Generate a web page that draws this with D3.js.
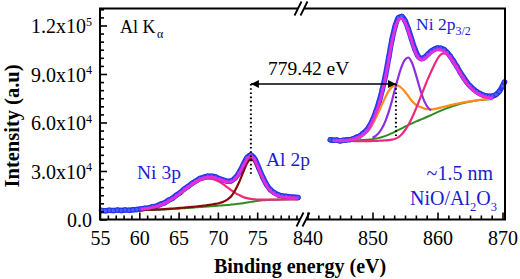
<!DOCTYPE html>
<html><head><meta charset="utf-8">
<script src="https://cdn.jsdelivr.net/npm/d3@7"></script>
<style>
body{margin:0;background:#fff}
svg{display:block;background:#fff}
text{font-family:"Liberation Serif","Times New Roman",Times,serif}
</style>
</head><body>
<svg id="c" width="520" height="279"></svg>
<script>
// ---------- DATA (intensity in units of 1000 counts) ----------
const leftDataE = [55.2,55.7,56.2,56.7,57.2,57.7,58.2,58.7,59.2,59.7,60.2,60.7,61.2,61.7,62.2,62.7,63.2,63.7,64.2,64.7,65.2,65.7,66.2,66.7,67.2,67.7,68.2,68.7,69.2,69.7,70.2,70.7,71.2,71.7,72.2,72.7,73.2,73.7,74.2,74.7,75.2,75.7,76.2,76.7,77.2,77.7,78.2,78.7,79.2,79.7,80.2];
const leftData = [5.6,5.4,5.7,5.5,5.8,5.6,5.9,5.7,6.0,6.2,6.5,6.9,7.1,7.9,8.3,9.4,10.3,11.9,13.1,15.0,16.6,18.8,20.4,22.3,23.8,25.3,26.1,26.8,26.7,26.3,25.2,24.4,23.6,23.9,25.7,29.0,33.6,38.2,39.9,37.4,31.9,26.3,21.6,18.4,16.5,15.2,14.6,14.3,14.0,13.8,13.6];

const leftFitE = [60.2,60.7,61.2,61.7,62.2,62.7,63.2,63.7,64.2,64.7,65.2,65.7,66.2,66.7,67.2,67.7,68.2,68.7,69.2,69.7,70.2,70.7,71.2,71.7,72.2,72.7,73.2,73.7,74.2,74.7,75.2,75.7,76.2,76.7,77.2,77.7,78.2,78.7,79.2,79.7,80.2];
const leftBg = [5.8,5.85,5.9,5.95,6.0,6.1,6.2,6.35,6.5,6.65,6.8,7.0,7.15,7.3,7.5,7.7,7.85,8.0,8.2,8.4,8.6,8.8,9.0,9.25,9.5,9.8,10.1,10.5,10.9,11.3,11.6,11.85,12.0,12.15,12.25,12.3,12.35,12.4,12.45,12.5,12.5];
const leftNi3p = [6.2,6.47,6.82,7.3,7.92,8.75,9.78,11.05,12.52,14.17,15.94,17.83,19.64,21.35,22.89,24.12,24.93,25.3,25.18,24.47,23.25,21.67,19.9,18.14,16.49,15.1,13.97,13.22,12.75,12.51,12.36,12.31,12.27,12.3,12.33,12.34,12.37,12.41,12.45,12.5,12.5];
const leftAl2p = [5.94,6.0,6.06,6.13,6.2,6.31,6.43,6.6,6.78,6.95,7.15,7.39,7.58,7.79,8.05,8.33,8.6,8.88,9.25,9.68,10.23,11.03,12.28,14.4,18.14,23.05,29.02,34.67,37.4,35.47,30.52,25.1,20.64,17.61,15.73,14.53,13.98,13.68,13.5,13.38,13.25];
const leftEnv = [6.34,6.62,6.98,7.48,8.12,8.96,10.01,11.3,12.8,14.47,16.29,18.22,20.07,21.84,23.44,24.75,25.68,26.18,26.23,25.75,24.88,23.9,23.18,23.29,25.13,28.35,32.89,37.39,39.25,36.68,31.28,25.56,20.91,17.76,15.81,14.57,14.0,13.69,13.5,13.38,13.25];

const rightDataE = [843.5,844,844.5,845,845.5,846,846.5,847,847.5,848,848.5,849,849.5,850,850.5,851,851.5,852,852.5,853,853.5,854,854.5,855,855.5,856,856.5,857,857.5,858,858.5,859,859.5,860,860.5,861,861.5,862,862.5,863,863.5,864,864.5,865,865.5,866,866.5,867,867.5,868,868.5,869,869.5,870,870.3];
const rightData = [49.3,49.0,49.2,48.6,49.0,49.2,49.4,49.9,50.8,51.6,53.2,54.9,57.6,61.5,66.6,72.6,80.3,89.3,100.4,111.3,119.8,124.8,125.6,123.0,117.9,111.6,105.6,101.1,99.6,100.3,102.2,104.1,105.3,106.1,105.9,105.1,103.2,100.8,97.7,94.6,91.0,87.9,85.0,82.6,80.7,79.1,77.9,77.0,76.4,76.2,76.4,77.3,79.2,82.6,85.0];

const rightFitE = [844,844.5,845,845.5,846,846.5,847,847.5,848,848.5,849,849.5,850,850.5,851,851.5,852,852.5,853,853.5,854,854.5,855,855.5,856,856.5,857,857.5,858,858.5,859,859.5,860,860.5,861,861.5,862,862.5,863,863.5,864,864.5,865,865.5,866,866.5,867,867.5,868,868.5];
const rightBg = [48.8,48.8,48.8,48.8,48.85,48.85,48.9,48.95,49.0,49.1,49.25,49.45,49.7,50.05,50.5,51.05,51.7,52.5,53.4,54.4,55.4,56.4,57.4,58.4,59.35,60.25,61.1,61.95,62.8,63.7,64.6,65.5,66.4,67.3,68.1,68.9,69.6,70.3,70.9,71.5,72.0,72.5,72.9,73.3,73.6,73.85,74.05,74.2,74.3,74.35];
const rightOrange = [48.9,48.9,48.9,48.95,49.05,49.2,49.5,49.9,50.7,51.8,53.5,55.9,59.0,62.7,67.0,71.5,75.8,79.5,82.0,83.1,82.7,81.2,79.0,76.3,73.6,71.5,70.2,69.4,68.6,68.2,68.1,68.3,68.7,69.2,69.7,70.2,70.7,71.2,71.6,72.0,72.4,72.8,73.1,73.4,73.7,74.0,74.2,74.4,74.6,74.7];
const rightEnv = [48.9,48.8,48.75,48.75,48.9,49.1,49.6,50.3,51.2,52.5,54.3,56.8,60.8,65.5,71.5,79.0,88.0,99.0,110.0,118.5,123.5,124.4,121.8,116.8,110.5,104.5,100.2,98.7,99.3,101.2,103.0,104.3,105.0,104.9,104.0,102.3,99.8,96.8,93.5,90.2,87.0,84.2,81.8,79.9,78.4,77.2,76.3,75.7,75.3,75.1];
const purpleE = [850,850.5,851,851.5,852,852.5,853,853.5,854,854.5,855,855.5,856,856.5,857,857.5,858,858.5,859];
const rightPurple = [50.56,51.77,53.74,56.73,61.0,66.68,73.6,81.2,88.6,94.8,98.9,100.2,97.55,91.95,85.0,78.25,72.9,69.4,67.5];
const pinkE = [847,847.5,848,848.5,849,849.5,850,850.5,851,851.5,852,852.5,853,853.5,854,854.5,855,855.5,856,856.5,857,857.5,858,858.5,859,859.5,860,860.5,861,861.5,862,862.5,863,863.5,864,864.5,865,865.5,866,866.5,867,867.5,868,868.5];
const rightPink = [48.4,48.4,48.4,48.4,48.45,48.5,48.55,48.6,48.7,48.8,48.95,49.1,49.4,50.0,51.0,52.7,55.2,58.4,62.3,66.8,71.7,76.8,81.9,86.8,91.3,95.6,99.4,102.0,102.7,102.0,100.2,97.6,94.5,91.2,87.8,84.8,82.2,80.05,78.34,77.05,76.15,75.53,75.12,74.83];

// peak positions used for the 779.42 eV separation
const alPeak = 74.2, niPeak = 853.6, arrowLevel = 83.8, alDotEnd = 27, niDotEnd = 51.5;

// ticks
const yMajor = [0,30,60,90,120];
const yMant = ["0.0","3.0x10","6.0x10","9.0x10","1.2x10"];
const yExp = ["","4","4","4","5"];
const yMinor = [5,10,15,20,25,35,40,45,50,55,65,70,75,80,85,95,100,105,110,115,125,130];
const xLMajor = [55,60,65,70,75];
const xLMinor = [56,57,58,59,61,62,63,64,66,67,68,69,71,72,73,74,76,77,78,79,80];
const xRMajor = [840,850,860,870];
const xRMinor = [841.667,843.333,845,846.667,848.333,851.667,853.333,855,856.667,858.333,861.667,863.333,865,866.667,868.333];

// ---------- SCALES ----------
const svg = d3.select('#c');
const xL = d3.scaleLinear().domain([55,80.45]).range([100,300]);
const xR = d3.scaleLinear().domain([839.69,870.38]).range([305.5,505]);
const y = d3.scaleLinear().domain([0,130.5]).range([219.5,8.5]);

const C = {data:'#2a3cf0', env:'#e02ee0', pink:'#f0287c', brown:'#860a0a', green:'#2f8c22', orange:'#ff8c1a', purple:'#8c2fe0', text:'#1c1ccf'};
const SERIF = '"Liberation Serif","Times New Roman",Times,serif';

// ---------- CURVES ----------
function line(xs){ return d3.line().x(d=>xs(d[0])).y(d=>y(d[1])).curve(d3.curveMonotoneX); }
function zip(a,b){ return a.map((v,i)=>[v,b[i]]); }
const g = svg.append('g');

function dataSeries(xs, E, V){
  const pts = zip(E,V);
  g.append('path').attr('d', line(xs)(pts)).attr('fill','none').attr('stroke',C.data).attr('stroke-width',5.5).attr('stroke-linecap','round');
  g.selectAll(null).data(pts).enter().append('circle')
    .attr('cx',d=>xs(d[0])).attr('cy',d=>y(d[1])).attr('r',2.3)
    .attr('fill','#4a5cff').attr('stroke','#1f2ce0').attr('stroke-width',0.8);
}
function curve(xs, E, V, col, w){
  g.append('path').attr('d', line(xs)(zip(E,V))).attr('fill','none').attr('stroke',col).attr('stroke-width',w).attr('stroke-linejoin','round');
}

dataSeries(xL, leftDataE, leftData);
dataSeries(xR, rightDataE, rightData);

curve(xL, leftFitE, leftBg, C.green, 2);
curve(xL, leftFitE, leftNi3p, C.pink, 2.2);
curve(xL, leftFitE, leftAl2p, C.brown, 2.2);
curve(xL, leftFitE, leftEnv, C.env, 3);

curve(xR, rightFitE, rightBg, C.green, 2);
curve(xR, rightFitE, rightOrange, C.orange, 2.2);
curve(xR, purpleE, rightPurple, C.purple, 2.2);
curve(xR, pinkE, rightPink, C.pink, 2.2);
curve(xR, rightFitE, rightEnv, C.env, 3);

// ---------- AXES ----------
const fr = svg.append('g').attr('stroke','#000').attr('stroke-width',2).attr('fill','none');
const yT = y(130.5), yB = y(0);
fr.append('line').attr('x1',100).attr('y1',yT).attr('x2',100).attr('y2',yB);
fr.append('line').attr('x1',505).attr('y1',yT).attr('x2',505).attr('y2',yB);
fr.append('line').attr('x1',99).attr('y1',yT).attr('x2',298).attr('y2',yT);
fr.append('line').attr('x1',304).attr('y1',yT).attr('x2',506).attr('y2',yT);
fr.append('line').attr('x1',99).attr('y1',yB).attr('x2',300).attr('y2',yB);
fr.append('line').attr('x1',306).attr('y1',yB).attr('x2',506).attr('y2',yB);
[[298,yT],[304,yT],[300,yB],[306,yB]].forEach(p=>{
  fr.append('line').attr('x1',p[0]-3.5).attr('y1',p[1]+7).attr('x2',p[0]+3.5).attr('y2',p[1]-7).attr('stroke-width',1.8);
});

function styleAxis(sel){
  sel.attr('font-family',SERIF);
  sel.select('.domain').remove();
  sel.selectAll('.tick line').attr('stroke','#000').attr('stroke-width',1.6);
  sel.selectAll('text').attr('font-size','20px').attr('fill','#000').attr('font-family',SERIF);
}
const ay = svg.append('g').attr('transform','translate(100,0)')
  .call(d3.axisLeft(y).tickValues(yMajor).tickSizeInner(-7).tickSizeOuter(0).tickPadding(8).tickFormat((d,i)=>yMant[i]));
styleAxis(ay);
ay.selectAll('.tick text').each(function(d,i){
  const t = d3.select(this); t.text(null).attr('dy','0.36em');
  t.append('tspan').text(yMant[i]);
  if (yExp[i]) t.append('tspan').attr('dy','-0.62em').attr('font-size','12px').text(yExp[i]);
});
const ayMin = svg.append('g').attr('transform','translate(100,0)')
  .call(d3.axisLeft(y).tickValues(yMinor).tickSizeInner(-4).tickSizeOuter(0).tickFormat(''));
styleAxis(ayMin);

const axL = svg.append('g').attr('transform',`translate(0,${yB})`)
  .call(d3.axisBottom(xL).tickValues(xLMajor).tickSizeInner(-7).tickSizeOuter(0).tickPadding(11).tickFormat(d3.format('d')));
styleAxis(axL);
const axLm = svg.append('g').attr('transform',`translate(0,${yB})`)
  .call(d3.axisBottom(xL).tickValues(xLMinor).tickSizeInner(-4).tickSizeOuter(0).tickFormat(''));
styleAxis(axLm);
const axR = svg.append('g').attr('transform',`translate(0,${yB})`)
  .call(d3.axisBottom(xR).tickValues(xRMajor).tickSizeInner(-7).tickSizeOuter(0).tickPadding(11).tickFormat(d3.format('d')));
styleAxis(axR);
const axRm = svg.append('g').attr('transform',`translate(0,${yB})`)
  .call(d3.axisBottom(xR).tickValues(xRMinor).tickSizeInner(-4).tickSizeOuter(0).tickFormat(''));
styleAxis(axRm);

// axis titles
svg.append('text').attr('x',300).attr('y',273).attr('text-anchor','middle').attr('font-family',SERIF)
  .attr('font-size','20px').attr('font-weight','bold').text('Binding energy (eV)');
svg.append('text').attr('transform','translate(19,126) rotate(-90)').attr('text-anchor','middle').attr('font-family',SERIF)
  .attr('font-size','20.5px').attr('font-weight','bold').text('Intensity (a.u)');

// ---------- ANNOTATIONS ----------
const defs = svg.append('defs');
defs.append('marker').attr('id','ah').attr('viewBox','0 0 10 10').attr('refX',10).attr('refY',5)
  .attr('markerUnits','userSpaceOnUse').attr('markerWidth',9).attr('markerHeight',8)
  .attr('orient','auto-start-reverse').append('path').attr('d','M0,0 L10,5 L0,10 z').attr('fill','#000');
const ax1 = xL(alPeak), ax2 = xR(niPeak), ay0 = y(arrowLevel);
svg.append('line').attr('x1',ax1).attr('y1',ay0).attr('x2',ax1).attr('y2',y(alDotEnd))
  .attr('stroke','#000').attr('stroke-width',2).attr('stroke-dasharray','1.6,2.6');
svg.append('line').attr('x1',ax2).attr('y1',ay0).attr('x2',ax2).attr('y2',y(niDotEnd))
  .attr('stroke','#000').attr('stroke-width',2).attr('stroke-dasharray','1.6,2.6');
svg.append('line').attr('x1',ax1).attr('y1',ay0).attr('x2',ax2).attr('y2',ay0)
  .attr('stroke','#000').attr('stroke-width',1.5).attr('marker-start','url(#ah)').attr('marker-end','url(#ah)');
svg.append('text').attr('x',268).attr('y',75).attr('font-family',SERIF).attr('font-size','19.5px').attr('fill','#000').text('779.42 eV');

const tK = svg.append('text').attr('x',120).attr('y',33).attr('font-family',SERIF).attr('font-size','18px').attr('fill','#000');
tK.append('tspan').text('Al K');
tK.append('tspan').attr('dx','1.5').attr('dy','5').attr('font-size','12px').text('α');

const tN2 = svg.append('text').attr('x',416).attr('y',30).attr('font-family',SERIF).attr('font-size','17.5px').attr('fill',C.text);
tN2.append('tspan').text('Ni 2p');
tN2.append('tspan').attr('dy','5').attr('font-size','12px').text('3/2');

svg.append('text').attr('x',137).attr('y',179).attr('font-family',SERIF).attr('font-size','19.5px').attr('fill',C.text).text('Ni 3p');
svg.append('text').attr('x',266).attr('y',166).attr('font-family',SERIF).attr('font-size','19.5px').attr('fill',C.text).text('Al 2p');
svg.append('text').attr('x',493).attr('y',180).attr('text-anchor','end').attr('font-family',SERIF).attr('font-size','20px').attr('fill',C.text).text('~1.5 nm');
const tS = svg.append('text').attr('x',497).attr('y',205).attr('text-anchor','end').attr('font-family',SERIF).attr('font-size','20px').attr('fill',C.text);
tS.append('tspan').text('NiO/Al');
tS.append('tspan').attr('dy','6').attr('font-size','12.5px').text('2');
tS.append('tspan').attr('dy','-6').text('O');
tS.append('tspan').attr('dy','6').attr('font-size','12.5px').text('3');
</script>
</body></html>
